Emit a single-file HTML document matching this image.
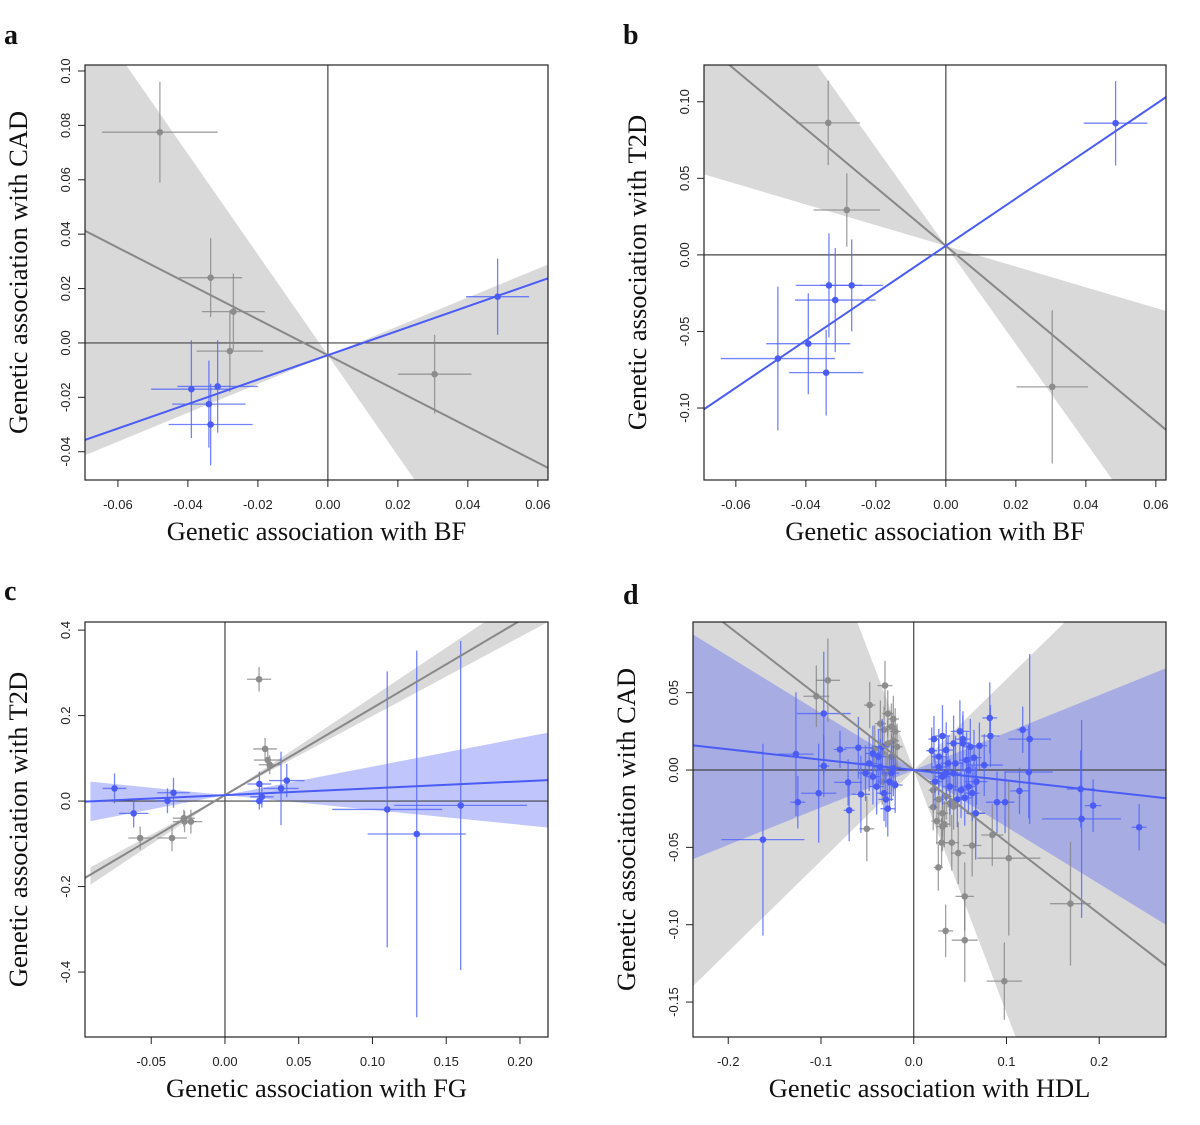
<!DOCTYPE html>
<html><head><meta charset="utf-8"><style>
html,body{margin:0;padding:0;background:#fff;overflow:hidden;width:1200px;height:1125px;}
svg{display:block;}
.tick{font-family:"Liberation Sans",sans-serif;font-size:13px;fill:#222;}
.title{font-family:"Liberation Serif",serif;font-size:26.5px;fill:#111;}
.letter{font-family:"Liberation Serif",serif;font-size:28px;font-weight:bold;fill:#111;}
</style></head><body>
<svg id="fig" width="1200" height="1125" viewBox="0 0 1200 1125" xmlns="http://www.w3.org/2000/svg"></svg>
<script>
// ---------- Panel a data ----------
const aGrayX=[-0.048,-0.0335,-0.027,-0.028,0.0305];
const aGrayY=[0.0775,0.024,0.0115,-0.003,-0.0115];
const aGrayXe=[0.0165,0.009,0.009,0.0095,0.0105];
const aGrayYe=[0.0185,0.0145,0.014,0.015,0.0145];
const aBlueX=[-0.039,-0.0315,-0.034,-0.0335,0.0485];
const aBlueY=[-0.017,-0.016,-0.0225,-0.030,0.017];
const aBlueXe=[0.0115,0.0115,0.0105,0.012,0.009];
const aBlueYe=[0.018,0.017,0.016,0.015,0.014];
const aGrayFit=[-0.0045,-0.659,0.53,-1.85];
const aBlueFit=[-0.0045,0.449];
const aXTicks=[-0.06,-0.04,-0.02,0.00,0.02,0.04,0.06];
const aXLabels=["-0.06","-0.04","-0.02","0.00","0.02","0.04","0.06"];
const aYTicks=[-0.04,-0.02,0.00,0.02,0.04,0.06,0.08,0.10];
const aYLabels=["-0.04","-0.02","0.00","0.02","0.04","0.06","0.08","0.10"];
// ---------- Panel b data ----------
const bGrayX=[-0.0336,-0.0283,0.0304];
const bGrayY=[0.0862,0.0293,-0.0862];
const bGrayXe=[0.0091,0.0095,0.0102];
const bGrayYe=[0.0276,0.024,0.050];
const bBlueX=[0.0485,-0.0334,-0.0269,-0.0316,-0.0393,-0.048,-0.0342];
const bBlueY=[0.086,-0.0199,-0.0199,-0.0295,-0.058,-0.0677,-0.0769];
const bBlueXe=[0.0091,0.0095,0.009,0.0115,0.012,0.0163,0.0106];
const bBlueYe=[0.0276,0.034,0.030,0.034,0.033,0.047,0.028];
const bGrayFit=[0.0059,-1.91,-0.676,-3.21];
const bBlueFit=[0.0059,1.544];
const bXTicks=[-0.06,-0.04,-0.02,0.00,0.02,0.04,0.06];
const bXLabels=["-0.06","-0.04","-0.02","0.00","0.02","0.04","0.06"];
const bYTicks=[-0.10,-0.05,0.00,0.05,0.10];
const bYLabels=["-0.10","-0.05","0.00","0.05","0.10"];
// ---------- Panel c data ----------
const cGrayX=[0.0231,0.0272,0.029,0.0303,-0.0575,-0.0359,-0.0279,-0.0274,-0.0231];
const cGrayY=[0.285,0.122,0.096,0.085,-0.0864,-0.0864,-0.040,-0.048,-0.048];
const cGrayXe=[0.0082,0.008,0.0094,0.0075,0.008,0.010,0.0075,0.008,0.0078];
const cGrayYe=[0.029,0.026,0.025,0.022,0.027,0.031,0.020,0.025,0.028];
const cBlueX=[-0.0749,-0.0619,-0.039,-0.0349,0.0233,0.0233,0.025,0.038,0.0419,0.110,0.130,0.1598];
const cBlueY=[0.0296,-0.0288,0.0008,0.0195,0.040,0.0,0.010,0.0296,0.048,-0.0195,-0.077,-0.0101];
const cBlueXe=[0.008,0.010,0.0072,0.011,0.008,0.006,0.008,0.012,0.012,0.0373,0.0333,0.045];
const cBlueYe=[0.035,0.033,0.029,0.035,0.029,0.020,0.025,0.086,0.039,0.323,0.429,0.385];
const cGrayFit=[0.014,2.04,1.85,2.3];
const cBlueFit=[0.014,0.16,0.667,-0.347];
const cXTicks=[-0.05,0.00,0.05,0.10,0.15,0.20];
const cXLabels=["-0.05","0.00","0.05","0.10","0.15","0.20"];
const cYTicks=[-0.4,-0.2,0.0,0.2,0.4];
const cYLabels=["-0.4","-0.2","0.0","0.2","0.4"];
// ---------- Panel d data ----------
const dGrayX=[-0.0926,-0.105,-0.031,-0.0475,-0.0506,-0.028,-0.022,-0.024,-0.020,-0.022,-0.018,-0.036,-0.032,-0.028,-0.042,-0.034,-0.024,-0.020,-0.030,-0.034,
0.0265,0.0344,0.055,0.055,0.0977,0.1025,0.169,0.0847,0.063,0.048,0.041,0.030,0.031,0.025,0.033,0.021,0.027,0.031,0.021,0.039,0.067,0.035,0.043];
const dGrayY=[0.058,0.0477,0.0546,0.042,-0.038,0.0365,0.033,0.028,0.025,0.019,0.015,0.030,0.026,0.017,0.014,0.011,0.0086,0.002,-0.002,-0.0075,
-0.063,-0.104,-0.0817,-0.110,-0.1365,-0.057,-0.0864,-0.042,-0.0488,-0.0537,-0.047,-0.047,-0.0365,-0.033,-0.035,-0.024,-0.019,-0.028,-0.013,-0.0215,-0.028,-0.017,-0.0236];
const dGrayXe=[0.013,0.014,0.008,0.006,0.008,0.006,0.006,0.006,0.006,0.006,0.006,0.006,0.006,0.006,0.006,0.006,0.006,0.006,0.006,0.006,
0.005,0.008,0.010,0.014,0.019,0.034,0.022,0.012,0.010,0.008,0.008,0.006,0.006,0.006,0.006,0.005,0.006,0.006,0.005,0.007,0.010,0.006,0.007];
const dGrayYe=[0.027,0.020,0.016,0.015,0.021,0.015,0.015,0.015,0.015,0.015,0.015,0.015,0.015,0.015,0.015,0.015,0.015,0.015,0.015,0.015,
0.015,0.017,0.022,0.027,0.025,0.050,0.040,0.020,0.020,0.020,0.018,0.016,0.016,0.015,0.015,0.015,0.015,0.015,0.015,0.015,0.020,0.015,0.015];
const dBlueX=[-0.1626,-0.127,-0.125,-0.1025,-0.097,-0.097,-0.0795,-0.0696,-0.0708,-0.0597,-0.057,-0.048,-0.044,-0.040,-0.036,-0.032,-0.028,-0.024,-0.020,-0.038,-0.052,-0.034,-0.044,-0.026,-0.030,-0.022,
0.243,0.1934,0.181,0.180,0.125,0.1175,0.124,0.114,0.0985,0.0898,0.082,0.0827,0.076,0.0708,0.0676,0.0668,0.0498,0.031,0.0218,0.0194,0.027,0.035,0.043,0.053,0.037,0.045,0.057,0.059,0.043,0.031,0.023,0.039,0.051,0.059,0.063,0.055,0.047,0.065,0.061,0.053,0.035,0.027];
const dBlueY=[-0.045,0.0103,-0.0208,-0.015,0.0365,0.0026,0.0133,-0.026,-0.008,0.0144,-0.0157,0.0043,-0.0043,-0.0107,0.002,-0.015,-0.025,-0.002,-0.0097,0.0086,-0.002,0.015,0.0107,-0.0075,-0.019,0.001,
-0.037,-0.023,-0.0316,-0.0123,0.020,0.026,-0.0013,-0.0135,-0.0208,-0.0208,0.0337,0.022,0.0032,0.0157,-0.0075,-0.028,0.025,0.022,0.020,0.0125,0.0086,0.0129,0.0172,0.0172,0.0043,0.0043,0.0064,0.0,-0.0021,-0.0043,-0.0075,-0.0107,-0.0129,-0.0107,-0.015,-0.018,-0.019,0.008,0.015,0.020,-0.002,0.002];
const dBlueXe=[0.0447,0.019,0.008,0.019,0.029,0.006,0.007,0.006,0.015,0.015,0.010,0.008,0.008,0.008,0.008,0.008,0.008,0.008,0.008,0.008,0.008,0.008,0.008,0.008,0.008,0.008,
0.008,0.009,0.0425,0.015,0.023,0.006,0.026,0.010,0.010,0.012,0.008,0.010,0.020,0.008,0.012,0.010,0.010,0.008,0.006,0.006,0.008,0.008,0.008,0.008,0.008,0.008,0.008,0.008,0.008,0.008,0.008,0.008,0.008,0.008,0.008,0.008,0.008,0.008,0.008,0.008,0.008,0.008];
const dBlueYe=[0.062,0.040,0.017,0.032,0.040,0.020,0.012,0.020,0.015,0.020,0.025,0.018,0.018,0.018,0.018,0.018,0.018,0.018,0.018,0.018,0.018,0.018,0.018,0.018,0.018,0.018,
0.015,0.017,0.064,0.025,0.055,0.015,0.030,0.015,0.020,0.020,0.023,0.020,0.020,0.015,0.015,0.030,0.020,0.020,0.015,0.015,0.018,0.018,0.018,0.018,0.018,0.018,0.018,0.018,0.018,0.018,0.018,0.018,0.018,0.018,0.018,0.018,0.018,0.018,0.018,0.018,0.018,0.018];
const dGrayFit=[0,-0.465,0.587,-1.57];
const dBlueFit=[0,-0.067,0.242,-0.368];
const dXTicks=[-0.2,-0.1,0.0,0.1,0.2];
const dXLabels=["-0.2","-0.1","0.0","0.1","0.2"];
const dYTicks=[-0.15,-0.10,-0.05,0.00,0.05];
const dYLabels=["-0.15","-0.10","-0.05","0.00","0.05"];

const NS="http://www.w3.org/2000/svg";
const svg=document.getElementById('fig');
function mk(tag,attrs,parent){const e=document.createElementNS(NS,tag);for(const k in attrs)e.setAttribute(k,attrs[k]);(parent||svg).appendChild(e);return e;}

function drawPanel(id,box,xd,yd,letter,lpos,xt,xl,yt,yl,xtitle,ytitle,grayX,grayY,grayXe,grayYe,blueX,blueY,blueXe,blueYe,gFit,bFit,bandX0){
  const g=mk('g',{});
  
  
  const sx=v=>box[0]+(v-xd[0])/(xd[1]-xd[0])*(box[2]-box[0]);
  const sy=v=>box[3]-(v-yd[0])/(yd[1]-yd[0])*(box[3]-box[1]);
  const clip=mk('clipPath',{id:'clip'+id},g);
  mk('rect',{x:box[0],y:box[1],width:box[2]-box[0],height:box[3]-box[1]},clip);
  const plot=mk('g',{'clip-path':'url(#clip'+id+')'},g);
  
  
  const x0=bandX0, x1=xd[1];
  function band(fit,fill,name){
    const b=fit[0],s1=fit[fit.length-2],s2=fit[fit.length-1];
    const pts=[[x0,b+s1*x0],[0,b],[x1,b+s1*x1],[x1,b+s2*x1],[0,b],[x0,b+s2*x0]];
    const p=mk('polygon',{points:pts.map(q=>sx(q[0])+','+sy(q[1])).join(' '),fill:fill,stroke:'none'},plot);
    
    
  }
  if(gFit.length>2) band(gFit,'#d9d9d9','gray-ci-band');
  if(bFit.length>2) band(bFit,'rgba(74,92,245,0.35)','blue-ci-band');
  const zh=mk('line',{x1:box[0],x2:box[2],y1:sy(0),y2:sy(0),stroke:'#444','stroke-width':1.2},plot);
  
  
  const zv=mk('line',{x1:sx(0),x2:sx(0),y1:box[1],y2:box[3],stroke:'#444','stroke-width':1.2},plot);
  
  
  function pts(X,Y,XE,YE,ec,pc,name){
    for(let i=0;i<X.length;i++){
      const h=mk('line',{x1:sx(X[i]-XE[i]),x2:sx(X[i]+XE[i]),y1:sy(Y[i]),y2:sy(Y[i]),stroke:ec,'stroke-width':1.3},plot);
      
      
      const v=mk('line',{x1:sx(X[i]),x2:sx(X[i]),y1:sy(Y[i]-YE[i]),y2:sy(Y[i]+YE[i]),stroke:ec,'stroke-width':1.3},plot);
      
      
    }
    for(let i=0;i<X.length;i++){
      const c=mk('circle',{cx:sx(X[i]),cy:sy(Y[i]),r:3.3,fill:pc},plot);
      
      
    }
  }
  pts(grayX,grayY,grayXe,grayYe,'rgba(130,130,130,0.75)','#8c8c8c','gray-variant');
  pts(blueX,blueY,blueXe,blueYe,'rgba(80,100,250,0.8)','#4a5cf5','blue-variant');
  function fitLine(fit,col,name){
    const a=mk('line',{x1:sx(xd[0]),y1:sy(fit[0]+fit[1]*xd[0]),x2:sx(xd[1]),y2:sy(fit[0]+fit[1]*xd[1]),stroke:col,'stroke-width':2},plot);
    
    
  }
  fitLine(gFit,'#888888','gray-fit-line');
  fitLine(bFit,'#4a5cf5','blue-fit-line');
  const fr=mk('rect',{x:box[0],y:box[1],width:box[2]-box[0],height:box[3]-box[1],fill:'none',stroke:'#222','stroke-width':1.2},g);
  
  
  for(let i=0;i<xt.length;i++){
    const X=sx(xt[i]);
    const t=mk('line',{x1:X,x2:X,y1:box[3],y2:box[3]+7,stroke:'#222','stroke-width':1},g);
    
    
    const tx=mk('text',{x:X,y:box[3]+29,'text-anchor':'middle',class:'tick'},g);
    tx.textContent=xl[i];
    
    
  }
  for(let i=0;i<yt.length;i++){
    const Y=sy(yt[i]);
    const t=mk('line',{x1:box[0]-7,x2:box[0],y1:Y,y2:Y,stroke:'#222','stroke-width':1},g);
    
    
    const tx=mk('text',{x:0,y:0,'text-anchor':'middle',class:'tick',transform:'translate('+(box[0]-15)+','+Y+') rotate(-90)'},g);
    tx.textContent=yl[i];
    
    
  }
  const xtt=mk('text',{x:(box[0]+box[2])/2,y:box[3]+60,'text-anchor':'middle',class:'title'},g);
  xtt.textContent=xtitle;
  
  
  const ytt=mk('text',{x:0,y:0,'text-anchor':'middle',class:'title',transform:'translate('+(box[0]-58)+','+((box[1]+box[3])/2)+') rotate(-90)'},g);
  ytt.textContent=ytitle;
  
  
  const lt=mk('text',{x:lpos[0],y:lpos[1],class:'letter'},g);
  lt.textContent=letter;
  
  
}
drawPanel('a',[85,65,548,480],[-0.0694,0.0629],[-0.0504,0.1022],'a',[4,44],aXTicks,aXLabels,aYTicks,aYLabels,'Genetic association with BF','Genetic association with CAD',aGrayX,aGrayY,aGrayXe,aGrayYe,aBlueX,aBlueY,aBlueXe,aBlueYe,aGrayFit,aBlueFit,-0.0694);
drawPanel('b',[704,65,1166,480],[-0.0691,0.0629],[-0.147,0.124],'b',[623,44],bXTicks,bXLabels,bYTicks,bYLabels,'Genetic association with BF','Genetic association with T2D',bGrayX,bGrayY,bGrayXe,bGrayYe,bBlueX,bBlueY,bBlueXe,bBlueYe,bGrayFit,bBlueFit,-0.0691);
drawPanel('c',[85,622,548,1037],[-0.0949,0.219],[-0.552,0.419],'c',[4,600],cXTicks,cXLabels,cYTicks,cYLabels,'Genetic association with FG','Genetic association with T2D',cGrayX,cGrayY,cGrayXe,cGrayYe,cBlueX,cBlueY,cBlueXe,cBlueYe,cGrayFit,cBlueFit,-0.0912);
drawPanel('d',[693,622,1166,1037],[-0.238,0.272],[-0.1726,0.0957],'d',[623,604],dXTicks,dXLabels,dYTicks,dYLabels,'Genetic association with HDL','Genetic association with CAD',dGrayX,dGrayY,dGrayXe,dGrayYe,dBlueX,dBlueY,dBlueXe,dBlueYe,dGrayFit,dBlueFit,-0.238);
</script>
</body></html>
